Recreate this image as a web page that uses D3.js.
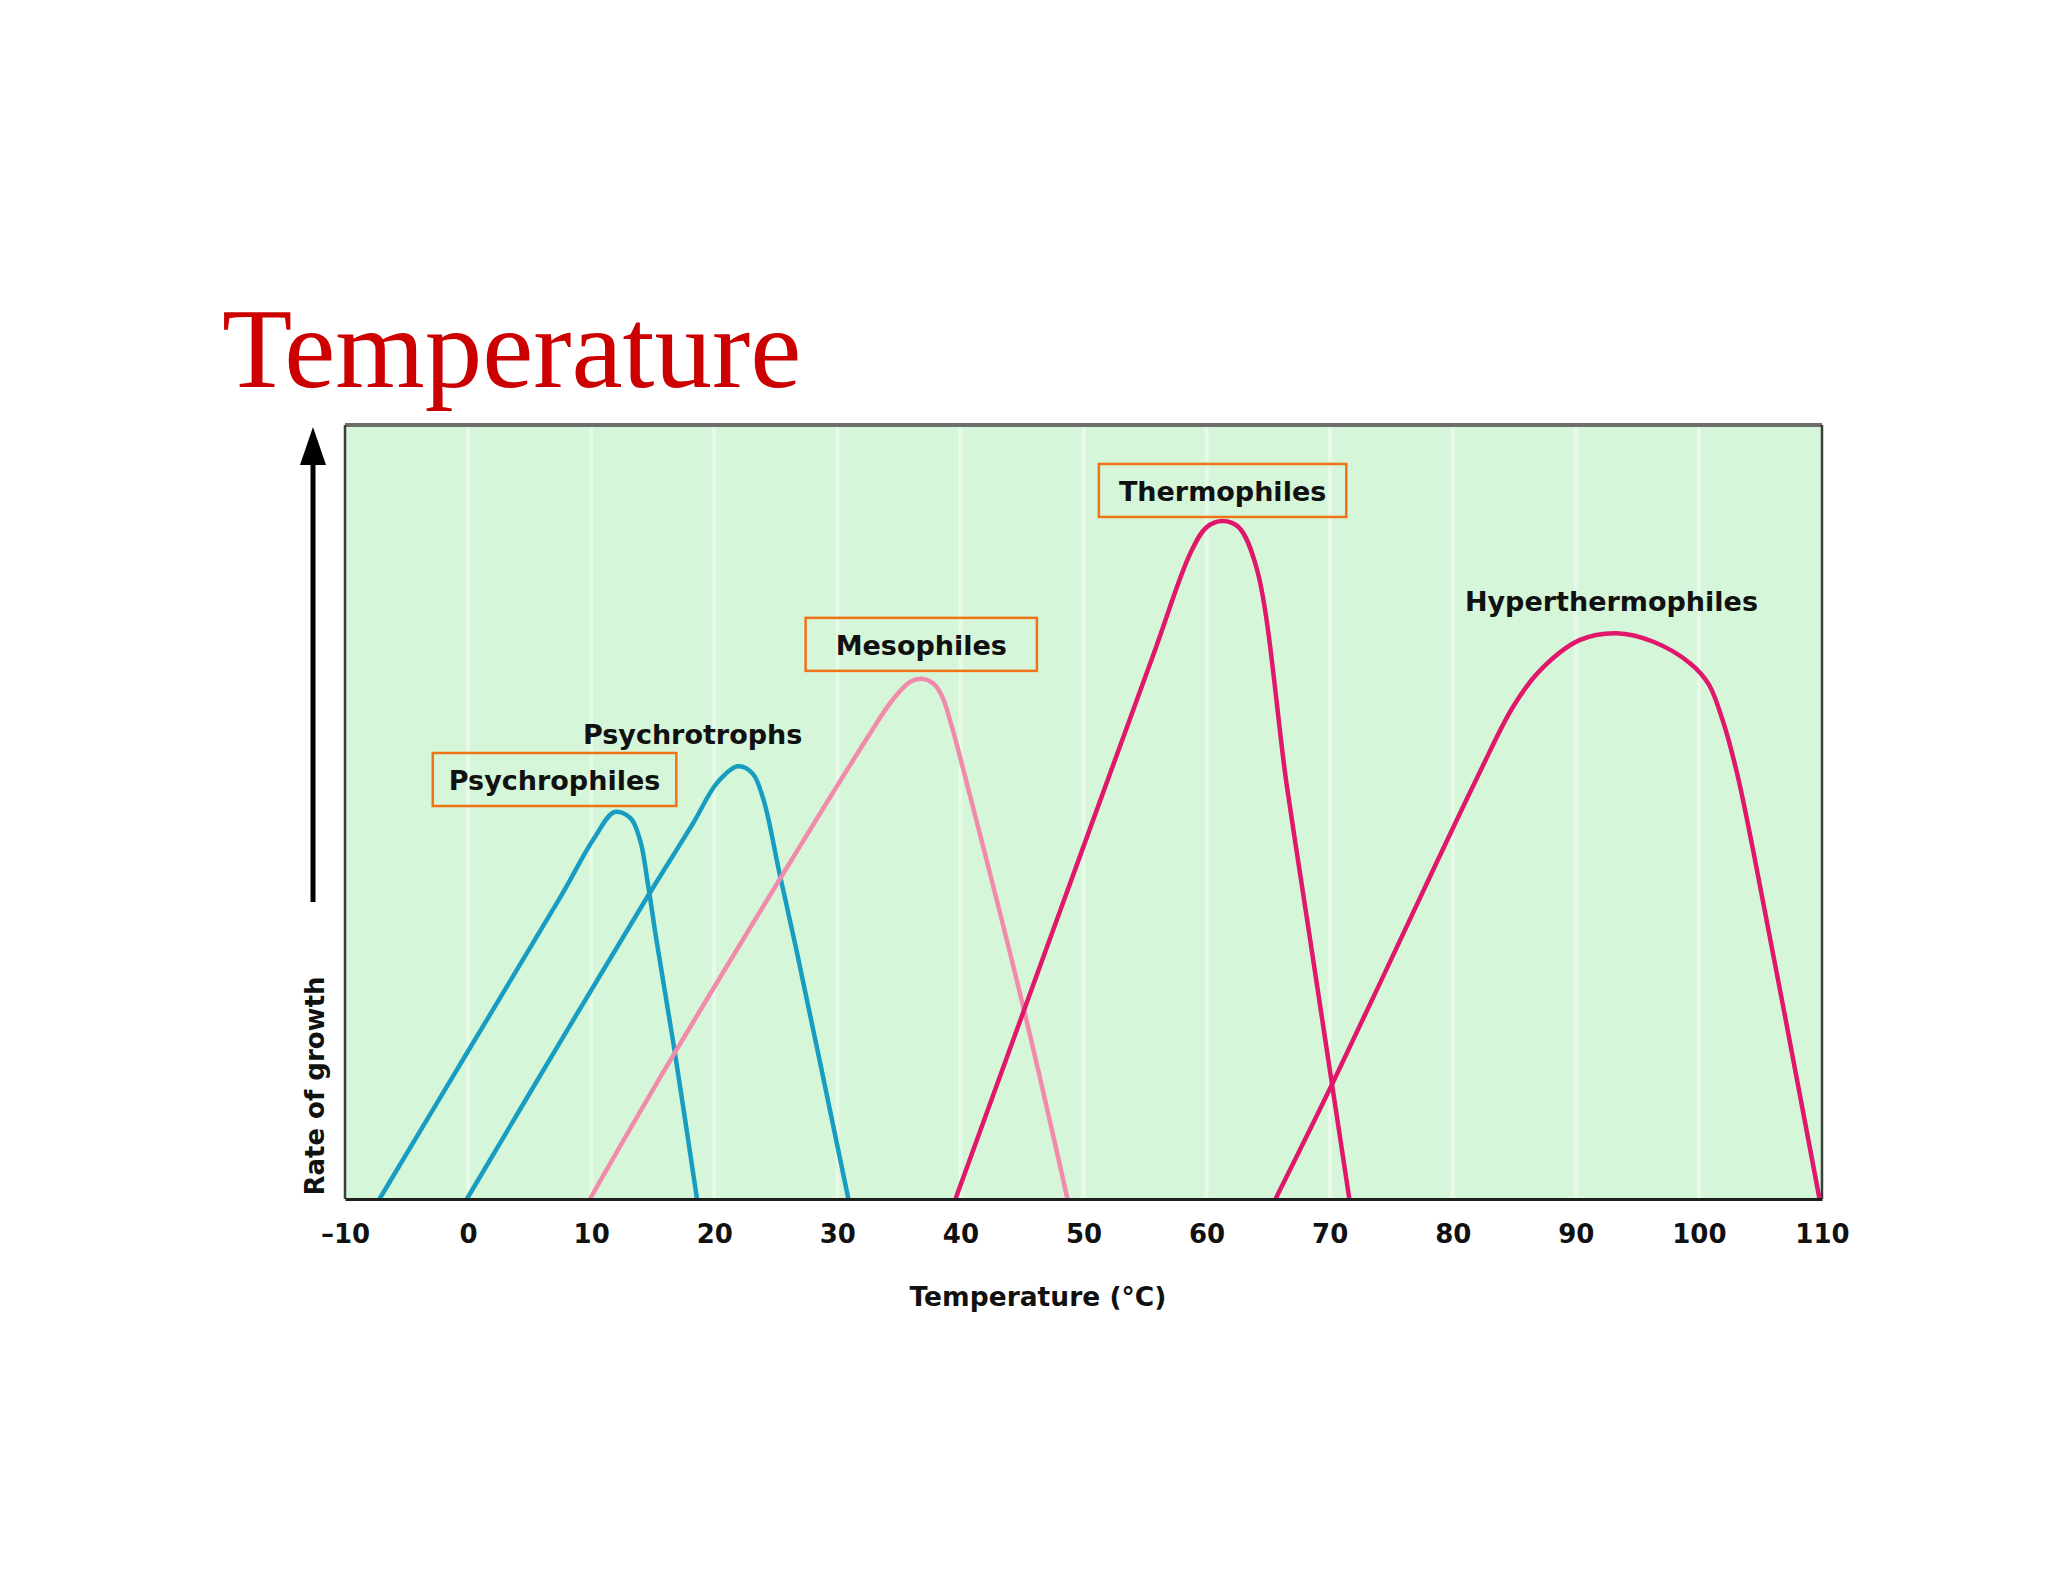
<!DOCTYPE html>
<html>
<head>
<meta charset="utf-8">
<script src="https://cdn.jsdelivr.net/npm/d3@7"></script>
<style>
  html, body { margin: 0; padding: 0; background: #ffffff; }
  svg { display: block; }
  .tick-label, .axis-label, .curve-label { font-family: "DejaVu Sans", sans-serif; font-weight: bold; fill: #111; }
</style>
</head>
<body>
<div id="graphic"></div>
<script>
// Temperature (°C) vs rate of growth (rate in arbitrary units 0-100)
const groups = ['Psychrophiles', 'Psychrotrophs', 'Mesophiles', 'Thermophiles', 'Hyperthermophiles'];

const psychrophiles = [[-7.2, 0], [0.3, 19.9], [7.5, 39], [10.2, 46.5], [11.9, 50], [13.2, 49.2], [14.0, 46.2], [14.6, 40.8], [15.3, 33.5], [16.8, 18.9], [18.6, 0]];
const psychrotrophs = [[-0.1, 0], [7.9, 21.4], [14.4, 38.6], [18.3, 48.6], [20.2, 53.7], [21.9, 55.9], [23.1, 55], [24.0, 51.6], [25.3, 42.1], [26.7, 32], [30.9, 0]];
const mesophiles = [[9.9, 0], [16.8, 18.9], [32.4, 59.5], [34.5, 64.5], [35.9, 66.8], [36.9, 67.2], [37.8, 66.6], [38.5, 65.0], [39.2, 61.6], [40.8, 52], [45.2, 24.2], [48.7, 0]];
const thermophiles = [[39.6, 0], [48.0, 36.8], [55.6, 70], [58.7, 83.5], [60.0, 86.8], [61.3, 87.6], [62.6, 86.8], [64.1, 81.3], [66.5, 53.6], [68.1, 36.8], [71.6, 0]];
const hyperthermophiles = [[65.6, 0], [70.4, 15.5], [78.7, 43.5], [82.0, 54.5], [84.9, 63.6], [87.1, 68.3], [90.3, 72.2], [93.3, 73.1], [96.3, 72], [99.3, 69.2], [100.8, 66.5], [102.0, 61.5], [103.1, 55], [104.4, 45.1], [109.8, 0]];

const seriesValues = [psychrophiles, psychrotrophs, mesophiles, thermophiles, hyperthermophiles];
const boxed = [true, false, true, true, false];

const xTicks = [-10, 0, 10, 20, 30, 40, 50, 60, 70, 80, 90, 100, 110];
const gridTicks = [0, 10, 20, 30, 40, 50, 60, 70, 80, 90, 100];

const titleText = 'Temperature';
const xAxisLabel = 'Temperature (°C)';
const yAxisLabel = 'Rate of growth';

// styles
const colours = ['#189dc2', '#189dc2', '#f28bab', '#e0176b', '#e0176b'];
// label offsets from each curve's peak, in px
const labelOffsets = [[-60, -32], [-45, -32], [-1, -34], [0, -30], [-5, -32]];
const boxPad = [16, 0, 30, 20, 0];

const width = 2048, height = 1582;
const margin = { top: 425, right: 226, bottom: 383, left: 345 };
const chartWidth = width - margin.left - margin.right;
const chartHeight = height - margin.top - margin.bottom;

const svg = d3.select('#graphic').append('svg')
	.attr('width', width)
	.attr('height', height);

svg.append('rect').attr('width', width).attr('height', height).attr('fill', '#ffffff');

// title
svg.append('text')
	.attr('x', 222)
	.attr('y', 387)
	.attr('font-family', '"Liberation Serif", "Times New Roman", serif')
	.attr('font-size', 115)
	.attr('fill', '#cc0000')
	.text(titleText);

const g = svg.append('g').attr('transform', `translate(${margin.left},${margin.top})`);

const x = d3.scaleLinear().domain([-10, 110]).range([0, chartWidth]);
const y = d3.scaleLinear().domain([0, 100]).range([chartHeight, 0]);

// plot background
g.append('rect')
	.attr('width', chartWidth)
	.attr('height', chartHeight)
	.attr('fill', '#d5f6d8');

// pale vertical grid lines
g.append('g')
	.attr('class', 'grid')
	.selectAll('line')
	.data(gridTicks)
	.join('line')
	.attr('x1', d => x(d)).attr('x2', d => x(d))
	.attr('y1', 2).attr('y2', chartHeight)
	.attr('stroke', '#e6fae7')
	.attr('stroke-width', 4);

// frame
g.append('line').attr('x1', 0).attr('x2', chartWidth).attr('y1', 0).attr('y2', 0)
	.attr('stroke', '#6b6e6b').attr('stroke-width', 4);
g.append('line').attr('x1', 0).attr('x2', 0).attr('y1', 0).attr('y2', chartHeight)
	.attr('stroke', '#3a3f3a').attr('stroke-width', 2.5);
g.append('line').attr('x1', chartWidth).attr('x2', chartWidth).attr('y1', 0).attr('y2', chartHeight)
	.attr('stroke', '#3a3f3a').attr('stroke-width', 2.5);

// curves
const line = d3.line()
	.x(d => x(d[0]))
	.y(d => y(d[1]))
	.curve(d3.curveCatmullRom.alpha(0.5));

seriesValues.forEach((vals, i) => {
	g.append('path')
		.datum(vals)
		.attr('fill', 'none')
		.attr('stroke', colours[i])
		.attr('stroke-width', 4.5)
		.attr('stroke-linejoin', 'round')
		.attr('d', line);
});

// x axis
const xAxis = g.append('g')
	.attr('transform', `translate(0,${chartHeight})`)
	.call(d3.axisBottom(x).tickValues(xTicks).tickSize(0).tickFormat(d => d < 0 ? '\u2013' + Math.abs(d) : d));
xAxis.select('.domain').attr('stroke', '#1c1f1c').attr('stroke-width', 3);
xAxis.selectAll('text')
	.attr('class', 'tick-label')
	.attr('y', 44)
	.attr('dy', null)
	.attr('font-size', 26)
	.attr('font-family', null);

g.append('text')
	.attr('class', 'axis-label')
	.attr('x', x(46.3))
	.attr('y', chartHeight + 107)
	.attr('text-anchor', 'middle')
	.attr('font-size', 26.5)
	.text(xAxisLabel);

// y axis arrow + label
const arrowX = -32;
g.append('line')
	.attr('x1', arrowX).attr('x2', arrowX)
	.attr('y1', chartHeight - 297).attr('y2', 30)
	.attr('stroke', '#000').attr('stroke-width', 5);
g.append('path')
	.attr('d', `M${arrowX},2 L${arrowX - 13},40 L${arrowX + 13},40 Z`)
	.attr('fill', '#000');

g.append('text')
	.attr('class', 'axis-label')
	.attr('transform', `translate(${arrowX + 11},${chartHeight - 113}) rotate(-90)`)
	.attr('text-anchor', 'middle')
	.attr('font-size', 26)
	.text(yAxisLabel);

// labels at each peak
seriesValues.forEach((vals, i) => {
	const peak = vals.reduce((a, b) => b[1] > a[1] ? b : a);
	const cx = x(peak[0]) + labelOffsets[i][0];
	const cy = y(peak[1]) + labelOffsets[i][1];
	const lab = g.append('g');
	const t = lab.append('text')
		.attr('class', 'curve-label')
		.attr('x', cx)
		.attr('y', cy)
		.attr('dy', '0.36em')
		.attr('text-anchor', 'middle')
		.attr('font-size', 27)
		.text(groups[i]);
	if (boxed[i]) {
		const bb = t.node().getBBox();
		lab.insert('rect', 'text')
			.attr('x', bb.x - boxPad[i])
			.attr('y', cy - 27)
			.attr('width', bb.width + 2 * boxPad[i])
			.attr('height', 53)
			.attr('fill', 'none')
			.attr('stroke', '#f07415')
			.attr('stroke-width', 2.5);
	}
});
</script>
</body>
</html>
